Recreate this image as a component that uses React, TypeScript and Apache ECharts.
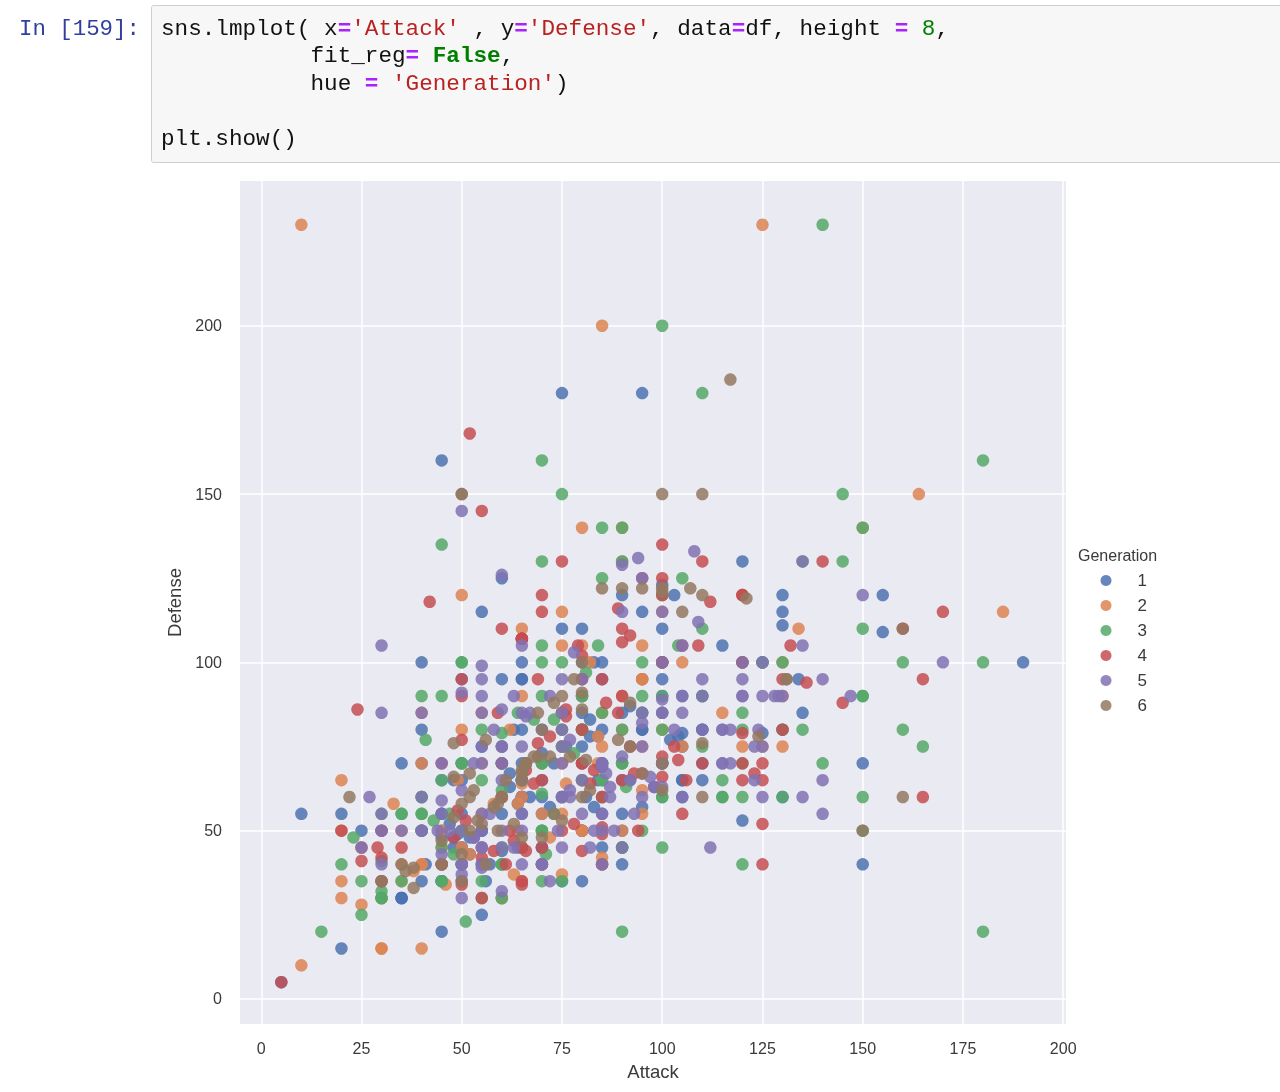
import React, { useEffect, useRef } from "react";
import * as echarts from "echarts";

type P = [number, number];

const GEN_NAMES = ["1", "2", "3", "4", "5", "6"];
const GEN_COLORS = ["#4c72b0", "#dd8452", "#55a868", "#c44e52", "#8172b3", "#937860"];

const gen1: P[] = [[49,49],[62,63],[82,83],[100,123],[52,43],[64,58],[84,78],[130,111],[104,78],[48,65],[63,80],[83,100],[103,120],[30,35],[20,55],[45,50],[35,30],[25,50],[90,40],[150,40],[45,40],[60,55],[80,75],[80,80],[56,35],[81,60],[60,30],[90,65],[60,44],[85,69],[55,40],[90,55],[75,85],[100,110],[47,52],[62,67],[92,87],[57,40],[72,57],[102,77],[45,48],[70,73],[41,40],[76,75],[45,20],[70,45],[45,35],[80,70],[50,55],[65,70],[80,85],[70,55],[95,80],[55,50],[65,60],[55,25],[80,50],[45,35],[70,60],[52,48],[82,78],[80,35],[105,60],[70,45],[110,80],[50,40],[65,65],[95,95],[20,15],[35,30],[50,45],[50,65],[80,50],[100,70],[130,80],[75,35],[90,50],[105,65],[40,35],[70,65],[80,100],[95,115],[120,130],[85,55],[100,70],[65,65],[75,110],[75,180],[35,70],[60,95],[65,55],[85,45],[110,70],[45,55],[70,80],[80,50],[105,75],[65,100],[95,180],[35,30],[50,45],[65,60],[65,80],[45,160],[48,45],[73,70],[105,90],[130,115],[30,50],[50,70],[40,80],[95,85],[50,95],[80,110],[120,53],[105,79],[55,75],[65,95],[90,120],[85,95],[130,120],[5,5],[55,115],[95,80],[125,100],[40,70],[65,95],[67,60],[92,65],[45,55],[75,85],[45,65],[110,80],[50,35],[83,57],[95,57],[125,100],[155,120],[100,95],[10,55],[125,79],[155,109],[85,80],[48,48],[55,50],[65,60],[65,60],[130,60],[60,70],[40,100],[60,125],[80,90],[115,105],[105,65],[135,85],[110,65],[85,100],[90,85],[100,90],[64,45],[84,65],[134,95],[110,90],[190,100],[150,70],[100,100]];

const gen2: P[] = [[49,65],[62,80],[82,100],[52,43],[64,58],[84,78],[65,64],[80,80],[105,100],[46,34],[76,64],[30,30],[50,50],[20,30],[35,50],[60,40],[90,70],[90,80],[38,38],[58,58],[40,15],[25,28],[30,15],[20,65],[40,85],[50,45],[75,70],[40,40],[55,55],[75,85],[95,105],[80,95],[20,50],[50,80],[100,115],[75,75],[35,40],[45,50],[55,70],[70,55],[30,30],[75,55],[65,45],[45,45],[85,85],[65,60],[65,110],[85,42],[75,80],[60,60],[72,48],[33,58],[80,65],[65,90],[90,140],[70,70],[75,105],[85,200],[125,230],[80,50],[120,75],[95,75],[130,100],[150,140],[10,230],[125,75],[185,115],[95,55],[80,50],[130,75],[40,40],[50,120],[50,40],[100,80],[55,85],[65,35],[105,75],[55,45],[40,70],[80,140],[60,30],[90,50],[90,90],[95,95],[60,60],[120,120],[80,90],[95,62],[20,35],[35,35],[95,95],[30,15],[63,37],[75,37],[80,105],[10,10],[85,75],[115,85],[75,115],[64,50],[84,70],[134,110],[164,150],[90,130],[130,90],[100,100]];

const gen3: P[] = [[45,35],[65,45],[85,65],[110,75],[60,40],[85,60],[120,70],[160,80],[70,50],[85,70],[110,90],[150,110],[55,35],[90,70],[30,41],[70,61],[45,35],[35,55],[70,50],[35,55],[50,70],[30,30],[50,50],[70,70],[40,50],[70,40],[100,60],[55,30],[85,60],[30,30],[50,100],[25,25],[35,35],[65,65],[85,65],[30,32],[60,62],[40,60],[130,80],[60,60],[80,80],[160,100],[45,90],[90,45],[90,45],[51,23],[71,43],[91,63],[60,30],[120,60],[20,40],[45,135],[45,45],[65,65],[75,75],[85,125],[85,85],[105,125],[70,100],[90,140],[110,180],[140,230],[40,55],[60,75],[100,85],[45,40],[75,60],[75,80],[50,40],[40,50],[73,55],[47,55],[60,45],[43,53],[73,83],[90,20],[120,40],[140,70],[70,35],[90,45],[60,40],[100,70],[120,100],[85,140],[25,35],[45,65],[60,60],[100,45],[70,50],[100,80],[85,40],[115,60],[40,60],[70,90],[110,110],[115,60],[100,60],[55,65],[95,85],[48,43],[78,73],[80,65],[120,85],[40,55],[70,105],[41,77],[81,97],[95,50],[125,100],[15,20],[60,79],[70,70],[90,70],[75,35],[115,65],[165,75],[40,90],[70,130],[68,83],[50,70],[130,60],[150,60],[23,48],[50,50],[80,80],[120,80],[40,50],[60,70],[80,90],[64,85],[104,105],[84,105],[90,130],[30,55],[75,60],[95,100],[135,80],[145,130],[55,80],[75,100],[135,130],[145,150],[100,200],[50,100],[75,150],[80,90],[100,120],[90,80],[130,100],[100,90],[150,90],[150,140],[180,160],[150,90],[180,100],[100,100],[150,50],[180,20],[70,160],[95,90]];

const gen4: P[] = [[68,64],[89,85],[109,105],[58,44],[78,52],[104,71],[51,53],[66,68],[86,88],[55,30],[75,50],[120,70],[45,40],[85,60],[25,41],[85,51],[65,34],[85,49],[120,79],[30,35],[70,65],[125,40],[165,60],[42,118],[52,168],[29,45],[59,85],[79,105],[69,95],[94,50],[30,42],[80,102],[45,70],[65,35],[105,55],[35,45],[60,70],[48,48],[83,68],[100,66],[50,34],[80,44],[66,44],[76,84],[136,94],[60,60],[125,52],[55,42],[82,64],[30,50],[63,47],[93,67],[24,86],[89,116],[80,95],[25,45],[5,5],[65,45],[92,108],[70,45],[90,65],[130,95],[170,115],[85,40],[70,40],[110,70],[145,88],[72,78],[112,118],[50,90],[90,110],[61,40],[106,65],[100,72],[49,56],[69,76],[20,50],[62,50],[92,75],[132,105],[120,65],[70,115],[85,95],[140,130],[100,125],[123,67],[95,67],[50,95],[76,86],[110,130],[60,110],[95,125],[130,80],[80,70],[125,65],[165,95],[55,145],[100,135],[80,70],[50,77],[65,107],[65,107],[65,107],[65,107],[65,107],[75,130],[105,105],[125,70],[120,120],[120,100],[90,106],[160,110],[100,120],[120,100],[70,120],[80,80],[100,100],[90,90],[100,100],[103,75],[120,120]];

const gen5: P[] = [[100,100],[45,55],[60,75],[75,95],[63,45],[93,55],[123,65],[55,45],[75,60],[100,85],[55,39],[85,69],[60,45],[80,65],[110,90],[50,37],[88,50],[53,48],[98,63],[53,48],[98,63],[53,48],[98,63],[25,45],[55,85],[55,50],[77,62],[115,80],[60,32],[100,63],[75,85],[105,105],[135,130],[45,43],[57,55],[85,40],[135,60],[60,86],[60,126],[80,55],[105,85],[140,95],[50,40],[65,55],[95,75],[100,85],[125,75],[53,70],[63,90],[103,80],[45,59],[55,99],[100,89],[27,60],[67,85],[35,50],[60,75],[92,65],[72,35],[82,45],[117,80],[90,45],[140,55],[30,105],[86,67],[65,85],[95,125],[75,70],[90,115],[58,80],[30,85],[50,145],[78,103],[108,133],[112,45],[140,65],[50,62],[95,82],[65,40],[105,60],[50,40],[95,60],[30,50],[45,70],[55,95],[30,40],[40,50],[65,75],[44,50],[87,63],[50,50],[65,65],[95,85],[60,50],[100,70],[75,60],[75,45],[135,105],[55,45],[85,70],[40,50],[60,70],[75,80],[47,50],[77,60],[50,91],[94,131],[55,70],[80,95],[100,115],[55,40],[85,70],[115,80],[55,55],[75,75],[30,55],[40,60],[55,90],[87,60],[117,70],[147,90],[70,40],[110,80],[50,30],[40,85],[70,40],[66,84],[85,50],[125,60],[120,90],[74,50],[124,80],[85,70],[125,100],[110,95],[83,50],[123,75],[55,75],[65,105],[97,66],[109,112],[65,50],[85,70],[105,90],[85,55],[60,65],[90,129],[129,90],[90,72],[115,70],[115,70],[120,100],[150,120],[125,90],[130,90],[170,100],[120,90],[72,90],[77,77],[128,90],[120,95]];

const gen6: P[] = [[61,65],[78,95],[107,122],[45,40],[59,58],[69,72],[56,40],[63,52],[95,67],[36,38],[56,77],[50,43],[73,55],[81,71],[35,40],[22,60],[52,50],[50,58],[68,72],[38,39],[45,47],[65,67],[65,68],[65,48],[100,62],[82,62],[124,78],[80,60],[48,54],[48,76],[80,100],[110,150],[150,50],[50,150],[52,60],[72,72],[48,66],[80,86],[54,53],[92,88],[52,67],[105,115],[60,60],[75,90],[53,62],[73,88],[38,33],[55,52],[89,77],[121,119],[59,50],[77,72],[65,65],[92,75],[58,57],[50,150],[50,35],[75,53],[100,70],[80,91],[70,48],[110,76],[66,70],[66,70],[66,70],[66,70],[90,122],[85,122],[95,122],[100,122],[69,85],[117,184],[30,35],[70,80],[131,95],[131,95],[100,121],[100,150],[160,110],[110,60],[160,60],[110,120]];

const X_TICKS = [0, 25, 50, 75, 100, 125, 150, 175, 200];
const Y_TICKS = [0, 50, 100, 150, 200];
const X_TITLE = "Attack";
const Y_TITLE = "Defense";
const LEGEND_TITLE = "Generation";
const PROMPT = "In [159]:";

// [token kind, text] runs for each source line of the notebook cell
const CODE_LINES: [string, string][][] = [
  [["k", "sns.lmplot( x"], ["o", "="], ["s", "'Attack'"], ["k", " , y"], ["o", "="], ["s", "'Defense'"], ["k", ", data"], ["o", "="], ["k", "df, height "], ["o", "="], ["k", " "], ["n", "8"], ["k", ","]],
  [["k", "           fit_reg"], ["o", "="], ["k", " "], ["b", "False"], ["k", ","]],
  [["k", "           hue "], ["o", "="], ["k", " "], ["s", "'Generation'"], ["k", ")"]],
  [],
  [["k", "plt.show()"]],
];

const MONO = "'Liberation Mono', monospace";
const SANS = "'Liberation Sans', Arial, sans-serif";
const CODE_SIZE = 22.65;

export default function App() {
  const ref = useRef<HTMLDivElement>(null);

  useEffect(() => {
    document.body.style.margin = "0";
    const chart = echarts.init(ref.current!, null, { renderer: "svg" });
    const codeRich = {
      k: { fontFamily: MONO, fontSize: CODE_SIZE, fill: "#111111", lineHeight: 27.5 },
      o: { fontFamily: MONO, fontSize: CODE_SIZE, fill: "#aa22ff", fontWeight: "bold", lineHeight: 27.5 },
      s: { fontFamily: MONO, fontSize: CODE_SIZE, fill: "#ba2121", lineHeight: 27.5 },
      n: { fontFamily: MONO, fontSize: CODE_SIZE, fill: "#008000", lineHeight: 27.5 },
      b: { fontFamily: MONO, fontSize: CODE_SIZE, fill: "#008000", fontWeight: "bold", lineHeight: 27.5 },
    };
    const codeElements = CODE_LINES.filter((l) => l.length > 0).map((line) => {
      const i = CODE_LINES.indexOf(line);
      return {
        type: "text",
        x: 161,
        y: 28.7 + i * 27.5,
        style: {
          text: line.map(([kind, t]) => `{${kind}|${t}}`).join(""),
          rich: codeRich,
          font: `${CODE_SIZE}px ${MONO}`,
          verticalAlign: "middle",
        },
      };
    });

    chart.setOption({
      animation: false,
      backgroundColor: "#ffffff",
      grid: {
        left: 240,
        top: 181,
        width: 826,
        height: 843,
        show: true,
        backgroundColor: "#eaeaf2",
        borderWidth: 0,
      },
      xAxis: {
        type: "value",
        min: -5.3,
        max: 200.7,
        name: X_TITLE,
        nameLocation: "middle",
        nameGap: 38,
        nameTextStyle: { fontFamily: SANS, fontSize: 18.5, color: "#3a3a3a" },
        axisLine: { show: false },
        axisTick: { show: false, customValues: X_TICKS },
        axisLabel: { customValues: X_TICKS, margin: 16, fontFamily: SANS, fontSize: 16, color: "#3a3a3a", showMinLabel: true, showMaxLabel: true },
        splitLine: { show: true, customValues: X_TICKS, lineStyle: { color: "#ffffff", width: 1.5 } },
      },
      yAxis: {
        type: "value",
        min: -7.43,
        max: 243,
        name: Y_TITLE,
        nameLocation: "middle",
        nameGap: 53,
        nameTextStyle: { fontFamily: SANS, fontSize: 18.5, color: "#3a3a3a" },
        axisLine: { show: false },
        axisTick: { show: false, customValues: Y_TICKS },
        axisLabel: { customValues: Y_TICKS, margin: 18, fontFamily: SANS, fontSize: 16, color: "#3a3a3a" },
        splitLine: { show: true, customValues: Y_TICKS, lineStyle: { color: "#ffffff", width: 1.5 } },
      },
      legend: {
        orient: "vertical",
        left: 1095.5,
        top: 567,
        itemWidth: 11,
        itemHeight: 11,
        itemGap: 8,
        icon: "circle",
        data: GEN_NAMES,
        textStyle: { fontFamily: SANS, fontSize: 17, color: "#3a3a3a", padding: [0, 0, 0, 21] },
      },
      series: [gen1, gen2, gen3, gen4, gen5, gen6].map((data, i) => ({
        type: "scatter",
        name: GEN_NAMES[i],
        data,
        symbol: "circle",
        symbolSize: 12.5,
        itemStyle: { color: GEN_COLORS[i], opacity: 0.85 },
        emphasis: { disabled: true },
      })),
      graphic: [
        {
          type: "rect",
          silent: true,
          shape: { x: 151.5, y: 5.5, width: 1140, height: 157, r: 2 },
          style: { fill: "#f7f7f7", stroke: "#cfcfcf", lineWidth: 1 },
        },
        {
          type: "text",
          x: 19,
          y: 28.7,
          style: {
            text: PROMPT,
            font: `22.4px ${MONO}`,
            fill: "#303f9f",
            verticalAlign: "middle",
          },
        },
        ...codeElements,
        {
          type: "text",
          x: 1078,
          y: 555,
          style: {
            text: LEGEND_TITLE,
            font: `16px ${SANS}`,
            fill: "#3a3a3a",
            verticalAlign: "middle",
          },
        },
      ],
    });
    return () => chart.dispose();
  }, []);

  return <div ref={ref} style={{ position: "absolute", left: 0, top: 0, width: 1280, height: 1092, filter: "blur(0.4px)" }} />;
}
